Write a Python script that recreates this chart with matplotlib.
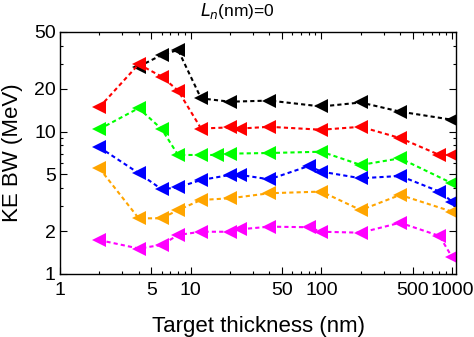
import matplotlib
matplotlib.use('Agg')
import matplotlib.pyplot as plt
from matplotlib.ticker import FixedLocator, FixedFormatter, LogLocator, NullFormatter

plt.rcParams['font.family'] = ['Liberation Sans', 'DejaVu Sans']

# thickness values (nm) and KE bandwidth (MeV) per series
x_black = [4, 6, 8, 12, 20, 40, 100, 200, 400, 1000]
y_black = [28.6, 34.5, 37.4, 17.1, 16.2, 16.5, 15.0, 16.0, 13.8, 12.1]

x_red = [2, 4, 6, 8, 12, 20, 24, 40, 100, 200, 400, 800, 1000]
y_red = [14.8, 29.7, 24.3, 19.4, 10.5, 10.7, 10.5, 10.8, 10.3, 10.8, 9.0, 6.85, 6.85]

x_green = [2, 4, 6, 8, 12, 16, 20, 40, 100, 200, 400, 1000]
y_green = [10.4, 14.6, 10.4, 6.85, 6.85, 6.85, 7.0, 7.07, 7.22, 5.83, 6.49, 4.33]

x_blue = [2, 4, 6, 8, 12, 20, 24, 40, 80, 100, 200, 400, 800, 1000]
y_blue = [7.76, 5.1, 3.93, 4.06, 4.57, 4.96, 4.96, 4.62, 5.73, 5.23, 4.7, 4.88, 3.79, 3.22]

x_orange = [2, 4, 6, 8, 12, 20, 40, 100, 200, 400, 1000]
y_orange = [5.53, 2.46, 2.46, 2.81, 3.31, 3.4, 3.69, 3.79, 2.81, 3.59, 2.74]

x_mag = [2, 4, 6, 8, 12, 20, 24, 40, 80, 100, 200, 400, 800, 1000]
y_mag = [1.73, 1.51, 1.6, 1.88, 1.98, 1.98, 2.06, 2.15, 2.13, 1.98, 1.95, 2.29, 1.85, 1.31]

series = [
    (x_black, y_black, 'black'),
    (x_red, y_red, 'red'),
    (x_green, y_green, '#00ff00'),
    (x_blue, y_blue, 'blue'),
    (x_orange, y_orange, 'orange'),
    (x_mag, y_mag, 'magenta'),
]

fig = plt.figure(figsize=(4.74, 3.37), dpi=100)
ax = fig.add_axes([60/474, 1-274/337, 396/474, 242/337])

for xs, ys, c in series:
    ax.plot(xs, ys, linestyle=(0, (2, 1.5)), color=c, linewidth=1.5,
            marker='<', markersize=10, markeredgewidth=0)

ax.set_xscale('log')
ax.set_yscale('log')
ax.set_xlim(1, 1070)
ax.set_ylim(1, 50)

xt = [1, 5, 10, 50, 100, 500, 1000]
ax.xaxis.set_major_locator(FixedLocator(xt))
ax.xaxis.set_major_formatter(FixedFormatter([str(v) for v in xt]))
ax.xaxis.set_minor_locator(LogLocator(base=10, subs=[2, 3, 4, 6, 7, 8, 9]))
ax.xaxis.set_minor_formatter(NullFormatter())

yt = [1, 2, 5, 10, 20, 50]
ax.yaxis.set_major_locator(FixedLocator(yt))
ax.yaxis.set_major_formatter(FixedFormatter([str(v) for v in yt]))
ax.yaxis.set_minor_locator(LogLocator(base=10, subs=[3, 4, 6, 7, 8, 9]))
ax.yaxis.set_minor_formatter(NullFormatter())

ax.tick_params(which='both', direction='in', top=True, right=True, labelsize=14, width=0.8)
ax.tick_params(which='major', length=5)
ax.tick_params(axis='x', which='major', pad=6)
ax.tick_params(axis='y', which='major', pad=3)
ax.tick_params(which='minor', length=2.5)
for s in ax.spines.values():
    s.set_linewidth(1)

ax.set_xlabel('Target thickness (nm)', fontsize=16, labelpad=12)
ax.set_ylabel('KE BW (MeV)', fontsize=16, labelpad=8)
fig.text(0.5, 1-11/337, '$L_n$(nm)=0', ha='center', va='center', fontsize=12.5)

fig.savefig('out.png', dpi=100)
